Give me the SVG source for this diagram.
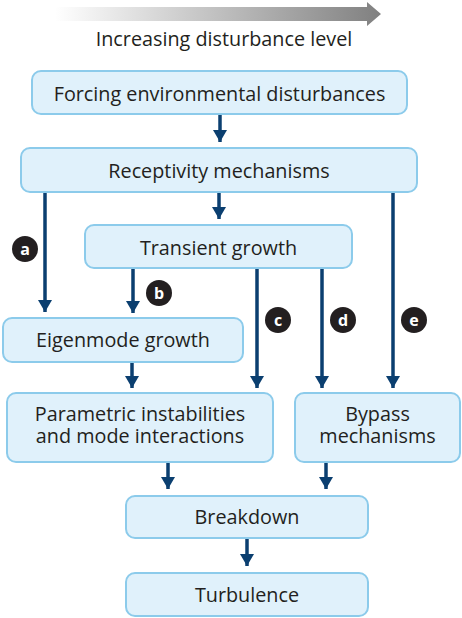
<svg xmlns="http://www.w3.org/2000/svg" width="462" height="618" viewBox="0 0 462 618">
<defs>
<linearGradient id="grad" x1="0" y1="0" x2="1" y2="0">
<stop offset="0" stop-color="#ffffff"/>
<stop offset="1" stop-color="#808080"/>
</linearGradient>
<marker id="ah" markerUnits="userSpaceOnUse" markerWidth="16" markerHeight="14" refX="12" refY="7" orient="auto">
<path d="M0,0 L12,7 L0,14 Z" fill="#0b3f70"/>
</marker>
<style>
.box{fill:#e0f1fb;stroke:#8ccbeb;stroke-width:2}
.t{font-family:"Open Sans","Liberation Sans",sans-serif;font-size:19.8px;fill:#231f20;text-anchor:middle}
.c{stroke:#0b3f70;stroke-width:3.5;fill:none;marker-end:url(#ah)}
.lb circle{fill:#231f20}
.lb text{font-family:"Open Sans","Liberation Sans",sans-serif;font-size:16px;font-weight:bold;fill:#ffffff;text-anchor:middle}
</style>
</defs>
<g id="scale">
<path d="M55,7 L367,7 L367,2 L381,14 L367,26 L367,21 L55,21 Z" fill="url(#grad)"/>
<text class="t" x="224" y="46">Increasing disturbance level</text>
</g>
<g id="connectors">
<line class="c" x1="220" y1="114" x2="220" y2="142"/>
<line class="c" x1="45" y1="192" x2="45" y2="312"/>
<line class="c" x1="219" y1="192" x2="219" y2="219"/>
<line class="c" x1="393" y1="192" x2="393" y2="388"/>
<line class="c" x1="133" y1="268" x2="133" y2="313"/>
<line class="c" x1="257" y1="268" x2="257" y2="388"/>
<line class="c" x1="322" y1="268" x2="322" y2="388"/>
<line class="c" x1="132" y1="362" x2="132" y2="388"/>
<line class="c" x1="168" y1="462" x2="168" y2="489"/>
<line class="c" x1="326" y1="462" x2="326" y2="489"/>
<line class="c" x1="247" y1="538" x2="247" y2="566"/>
</g>
<g id="labels">
<g class="lb"><circle cx="25" cy="249" r="13"/><text x="25" y="254.5">a</text></g>
<g class="lb"><circle cx="159" cy="293" r="13"/><text x="159" y="298.5">b</text></g>
<g class="lb"><circle cx="278" cy="320" r="13"/><text x="278" y="325.5">c</text></g>
<g class="lb"><circle cx="343" cy="320" r="13"/><text x="343" y="325.5">d</text></g>
<g class="lb"><circle cx="414" cy="320" r="13"/><text x="414" y="325.5">e</text></g>
</g>
<g id="forcing"><rect class="box" x="32" y="71" width="375" height="43" rx="9"/><text class="t" x="219.5" y="101">Forcing environmental disturbances</text></g>
<g id="receptivity"><rect class="box" x="21" y="148" width="396" height="44" rx="9"/><text class="t" x="219" y="178">Receptivity mechanisms</text></g>
<g id="transient"><rect class="box" x="85" y="225" width="267" height="43" rx="9"/><text class="t" x="218.5" y="255">Transient growth</text></g>
<g id="eigenmode"><rect class="box" x="3" y="318" width="240" height="44" rx="9"/><text class="t" x="123" y="347">Eigenmode growth</text></g>
<g id="parametric"><rect class="box" x="7" y="393" width="266" height="69" rx="9"/><text class="t" x="140" y="421">Parametric instabilities</text><text class="t" x="140" y="443">and mode interactions</text></g>
<g id="bypass"><rect class="box" x="295" y="393" width="165" height="69" rx="9"/><text class="t" x="377.5" y="421">Bypass</text><text class="t" x="377.5" y="443">mechanisms</text></g>
<g id="breakdown"><rect class="box" x="126" y="496" width="242" height="42" rx="9"/><text class="t" x="247" y="524">Breakdown</text></g>
<g id="turbulence"><rect class="box" x="126" y="573" width="242" height="43" rx="9"/><text class="t" x="247" y="602">Turbulence</text></g>
</svg>
